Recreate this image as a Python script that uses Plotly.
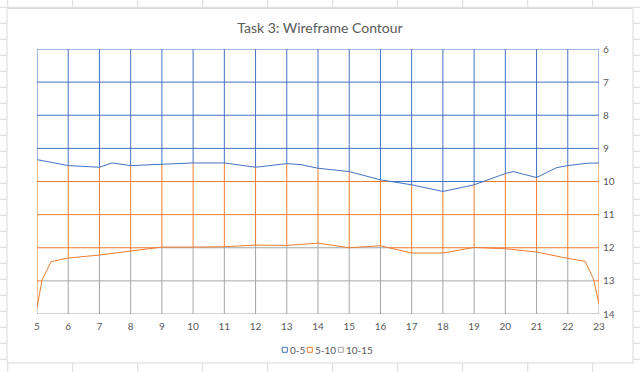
import numpy as np
import plotly.graph_objects as go

# ---------------- data ----------------
x_ticks = list(range(5, 24))
y_ticks = list(range(6, 15))
band_labels = ["0-5", "5-10", "10-15"]
band_colors = ["#4472C4", "#ED7D31", "#A5A5A5"]

# boundary between band 0-5 and 5-10
iso5_x = [5, 6, 7, 7.4, 8, 9, 10, 11, 12, 13, 13.45, 14, 15, 16, 17, 18, 19, 20, 20.25, 21, 21.65, 22, 22.6, 23]
iso5_y = [9.34, 9.52, 9.57, 9.44, 9.52, 9.48, 9.44, 9.44, 9.57, 9.46, 9.49, 9.60, 9.70, 9.95, 10.10, 10.30, 10.10, 9.76, 9.70, 9.88, 9.58, 9.52, 9.45, 9.44]

# boundary between band 5-10 and 10-15
iso10_x = [5, 5.16, 5.45, 6, 7, 8, 9, 10, 11, 12, 13, 14, 15, 16, 17, 18, 19, 20, 21, 22, 22.56, 22.83, 23]
iso10_y = [13.81, 12.98, 12.42, 12.31, 12.22, 12.11, 11.98, 11.98, 11.97, 11.92, 11.93, 11.86, 12.00, 11.94, 12.16, 12.16, 11.99, 12.03, 12.13, 12.32, 12.41, 12.96, 13.71]

# ---------------- build wireframe ----------------
segs = {0: ([], []), 1: ([], []), 2: ([], [])}
ymin, ymax = y_ticks[0], y_ticks[-1]

# vertical wires
for xv in x_ticks:
    b = float(np.interp(xv, iso5_x, iso5_y))
    o = float(np.interp(xv, iso10_x, iso10_y))
    for k, (y0, y1) in enumerate([(ymin, b), (b, o), (o, ymax)]):
        if y1 > y0:
            segs[k][0].extend([xv, xv, None])
            segs[k][1].extend([y0, y1, None])

# horizontal wires
xs = np.linspace(x_ticks[0], x_ticks[-1], 3601)
bl = np.interp(xs, iso5_x, iso5_y)
orr = np.interp(xs, iso10_x, iso10_y)
for yv in y_ticks:
    cls = np.where(yv <= bl, 0, np.where(yv <= orr, 1, 2))
    start = 0
    for i in range(1, len(xs) + 1):
        if i == len(xs) or cls[i] != cls[start]:
            x0 = xs[start] if start == 0 else (xs[start - 1] + xs[start]) / 2
            x1 = xs[i - 1] if i == len(xs) else (xs[i - 1] + xs[i]) / 2
            k = int(cls[start])
            segs[k][0].extend([x0, x1, None])
            segs[k][1].extend([yv, yv, None])
            start = i

fig = go.Figure()
for k in [2, 1, 0]:
    fig.add_trace(go.Scatter(x=segs[k][0], y=segs[k][1], mode="lines",
                             line=dict(color=band_colors[k], width=1),
                             name=band_labels[k], hoverinfo="skip", showlegend=False))
fig.add_trace(go.Scatter(x=iso10_x, y=iso10_y, mode="lines",
                         line=dict(color=band_colors[1], width=1), showlegend=False, hoverinfo="skip"))
fig.add_trace(go.Scatter(x=iso5_x, y=iso5_y, mode="lines",
                         line=dict(color=band_colors[0], width=1), showlegend=False, hoverinfo="skip"))

# ---------------- layout ----------------
W, H = 640, 372
L, R, T, B = 37, 41, 49, 58
PW, PH = W - L - R, H - T - B


def px(xp):
    return (xp - L) / PW


def py(yp):
    return (H - B - yp) / PH


shapes = []
grid_col = "#DADADA"
# spreadsheet rows / columns behind the chart
for k in range(0, 24):
    yp = 7.3 + 16 * k
    shapes.append(dict(type="line", xref="paper", yref="paper", x0=px(0), x1=px(W),
                       y0=py(yp), y1=py(yp), line=dict(color=grid_col, width=1), layer="below"))
for k in range(0, 11):
    xp = 7.7 + 65 * k
    shapes.append(dict(type="line", xref="paper", yref="paper", x0=px(xp), x1=px(xp),
                       y0=py(0), y1=py(H), line=dict(color=grid_col, width=1), layer="below"))
# chart area
shapes.append(dict(type="rect", xref="paper", yref="paper", x0=px(7), x1=px(633),
                   y0=py(363), y1=py(8.5), fillcolor="white",
                   line=dict(color="#D9D9D9", width=1), layer="below"))

# legend (drawn manually to match Excel's compact legend)
annotations = []
leg_y = 349.8
leg_items = [(282.3, 289.0), (307.3, 314.3), (338.3, 345.0)]
for k, (sx, tx) in enumerate(leg_items):
    shapes.append(dict(type="rect", xref="paper", yref="paper", x0=px(sx), x1=px(sx + 5),
                       y0=py(leg_y + 2.5), y1=py(leg_y - 2.5), fillcolor="white",
                       line=dict(color=band_colors[k], width=1)))
    annotations.append(dict(xref="paper", yref="paper", x=px(tx - 1), y=py(leg_y),
                            text=band_labels[k], showarrow=False, xanchor="left", yanchor="middle",
                            font=dict(family="Lato", size=10, color="#595959")))

fig.update_layout(
    width=W, height=H, autosize=False,
    margin=dict(l=L, r=R, t=T, b=B, pad=0),
    paper_bgcolor="white", plot_bgcolor="rgba(0,0,0,0)",
    title=dict(text="Task 3: Wireframe Contour", x=0.5, xref="container", xanchor="center",
               y=1 - 28.5 / H, yref="container", yanchor="middle",
               font=dict(family="Lato", size=14, color="#595959")),
    xaxis=dict(range=[x_ticks[0], x_ticks[-1]], tickvals=x_ticks, showgrid=False, zeroline=False,
               showline=False, ticks="", ticklabelstandoff=5,
               tickfont=dict(family="Lato", size=10, color="#595959"), fixedrange=True),
    yaxis=dict(range=[ymax, ymin], tickvals=y_ticks, side="right", showgrid=False, zeroline=False,
               showline=False, ticks="", ticklabelstandoff=3,
               tickfont=dict(family="Lato", size=10, color="#595959"), fixedrange=True),
    shapes=shapes, annotations=annotations, showlegend=False,
)

fig.write_html("out.html")
